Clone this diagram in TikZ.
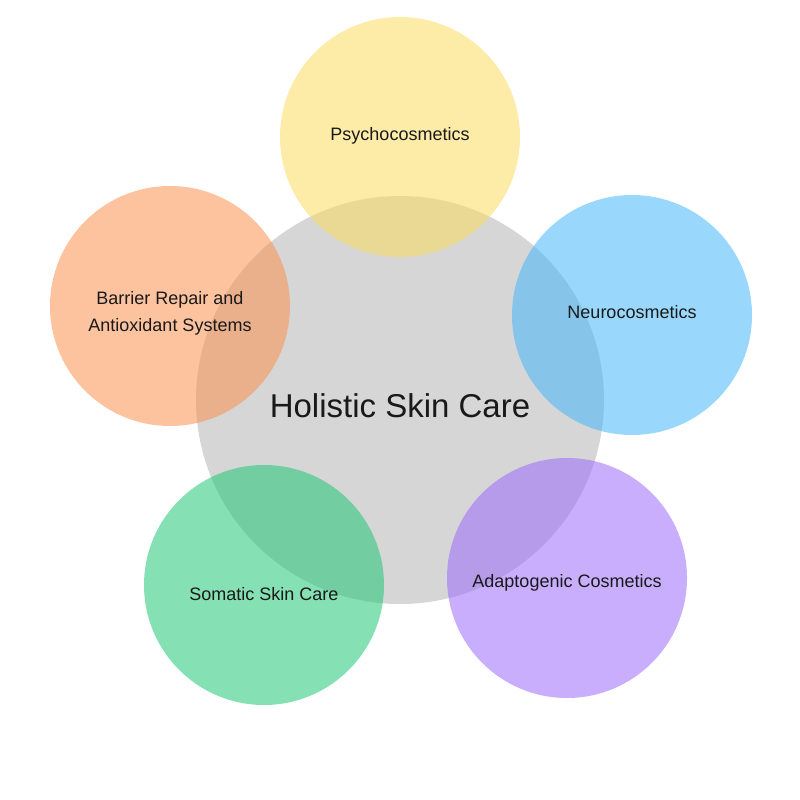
\documentclass[tikz,border=0pt]{standalone}
\usepackage{fontspec}
\setmainfont{Liberation Sans}

\definecolor{hubgray}{RGB}{214,214,214}
\definecolor{psyyellow}{RGB}{251,219,97}
\definecolor{barorange}{RGB}{251,146,80}
\definecolor{neublue}{RGB}{70,184,250}
\definecolor{somgreen}{RGB}{33,199,119}
\definecolor{adapurple}{RGB}{155,108,252}

\tikzset{
  hub/.style={circle,fill=hubgray,minimum size=408pt,inner sep=0pt},
  petal/.style={circle,fill=#1,fill opacity=0.55,minimum size=240pt,inner sep=0pt},
  petaltext/.style={text=black!90,font=\fontsize{18}{27}\selectfont,align=center}
}

\begin{document}
\begin{tikzpicture}[x=1pt,y=-1pt]
        \useasboundingbox (0,0) rectangle (800,800);

        % Centre circle
        \node[hub] (hub) at (400,400) {};
        \node[text=black!90,font=\fontsize{33}{40}\selectfont] (hubtext) at (400,406) {Holistic Skin Care};

        % Outer circles
        \node[petal=psyyellow] (psy) at (400,137) {};
        \node[petal=neublue] (neu) at (632,315) {};
        \node[petal=adapurple] (ada) at (567,578) {};
        \node[petal=somgreen] (som) at (264,585) {};
        \node[petal=barorange] (bar) at (170,306) {};

        % Labels
        \node[petaltext] (psytext) at (400,136) {Psychocosmetics};
        \node[petaltext] (neutext) at (632,312) {Neurocosmetics};
        \node[petaltext] (adatext) at (567,583) {Adaptogenic Cosmetics};
        \node[petaltext] (somtext) at (264,594) {Somatic Skin Care};
        \node[petaltext] (bartext) at (170,313) {Barrier Repair and\\Antioxidant Systems};
    \end{tikzpicture}
\end{document}
